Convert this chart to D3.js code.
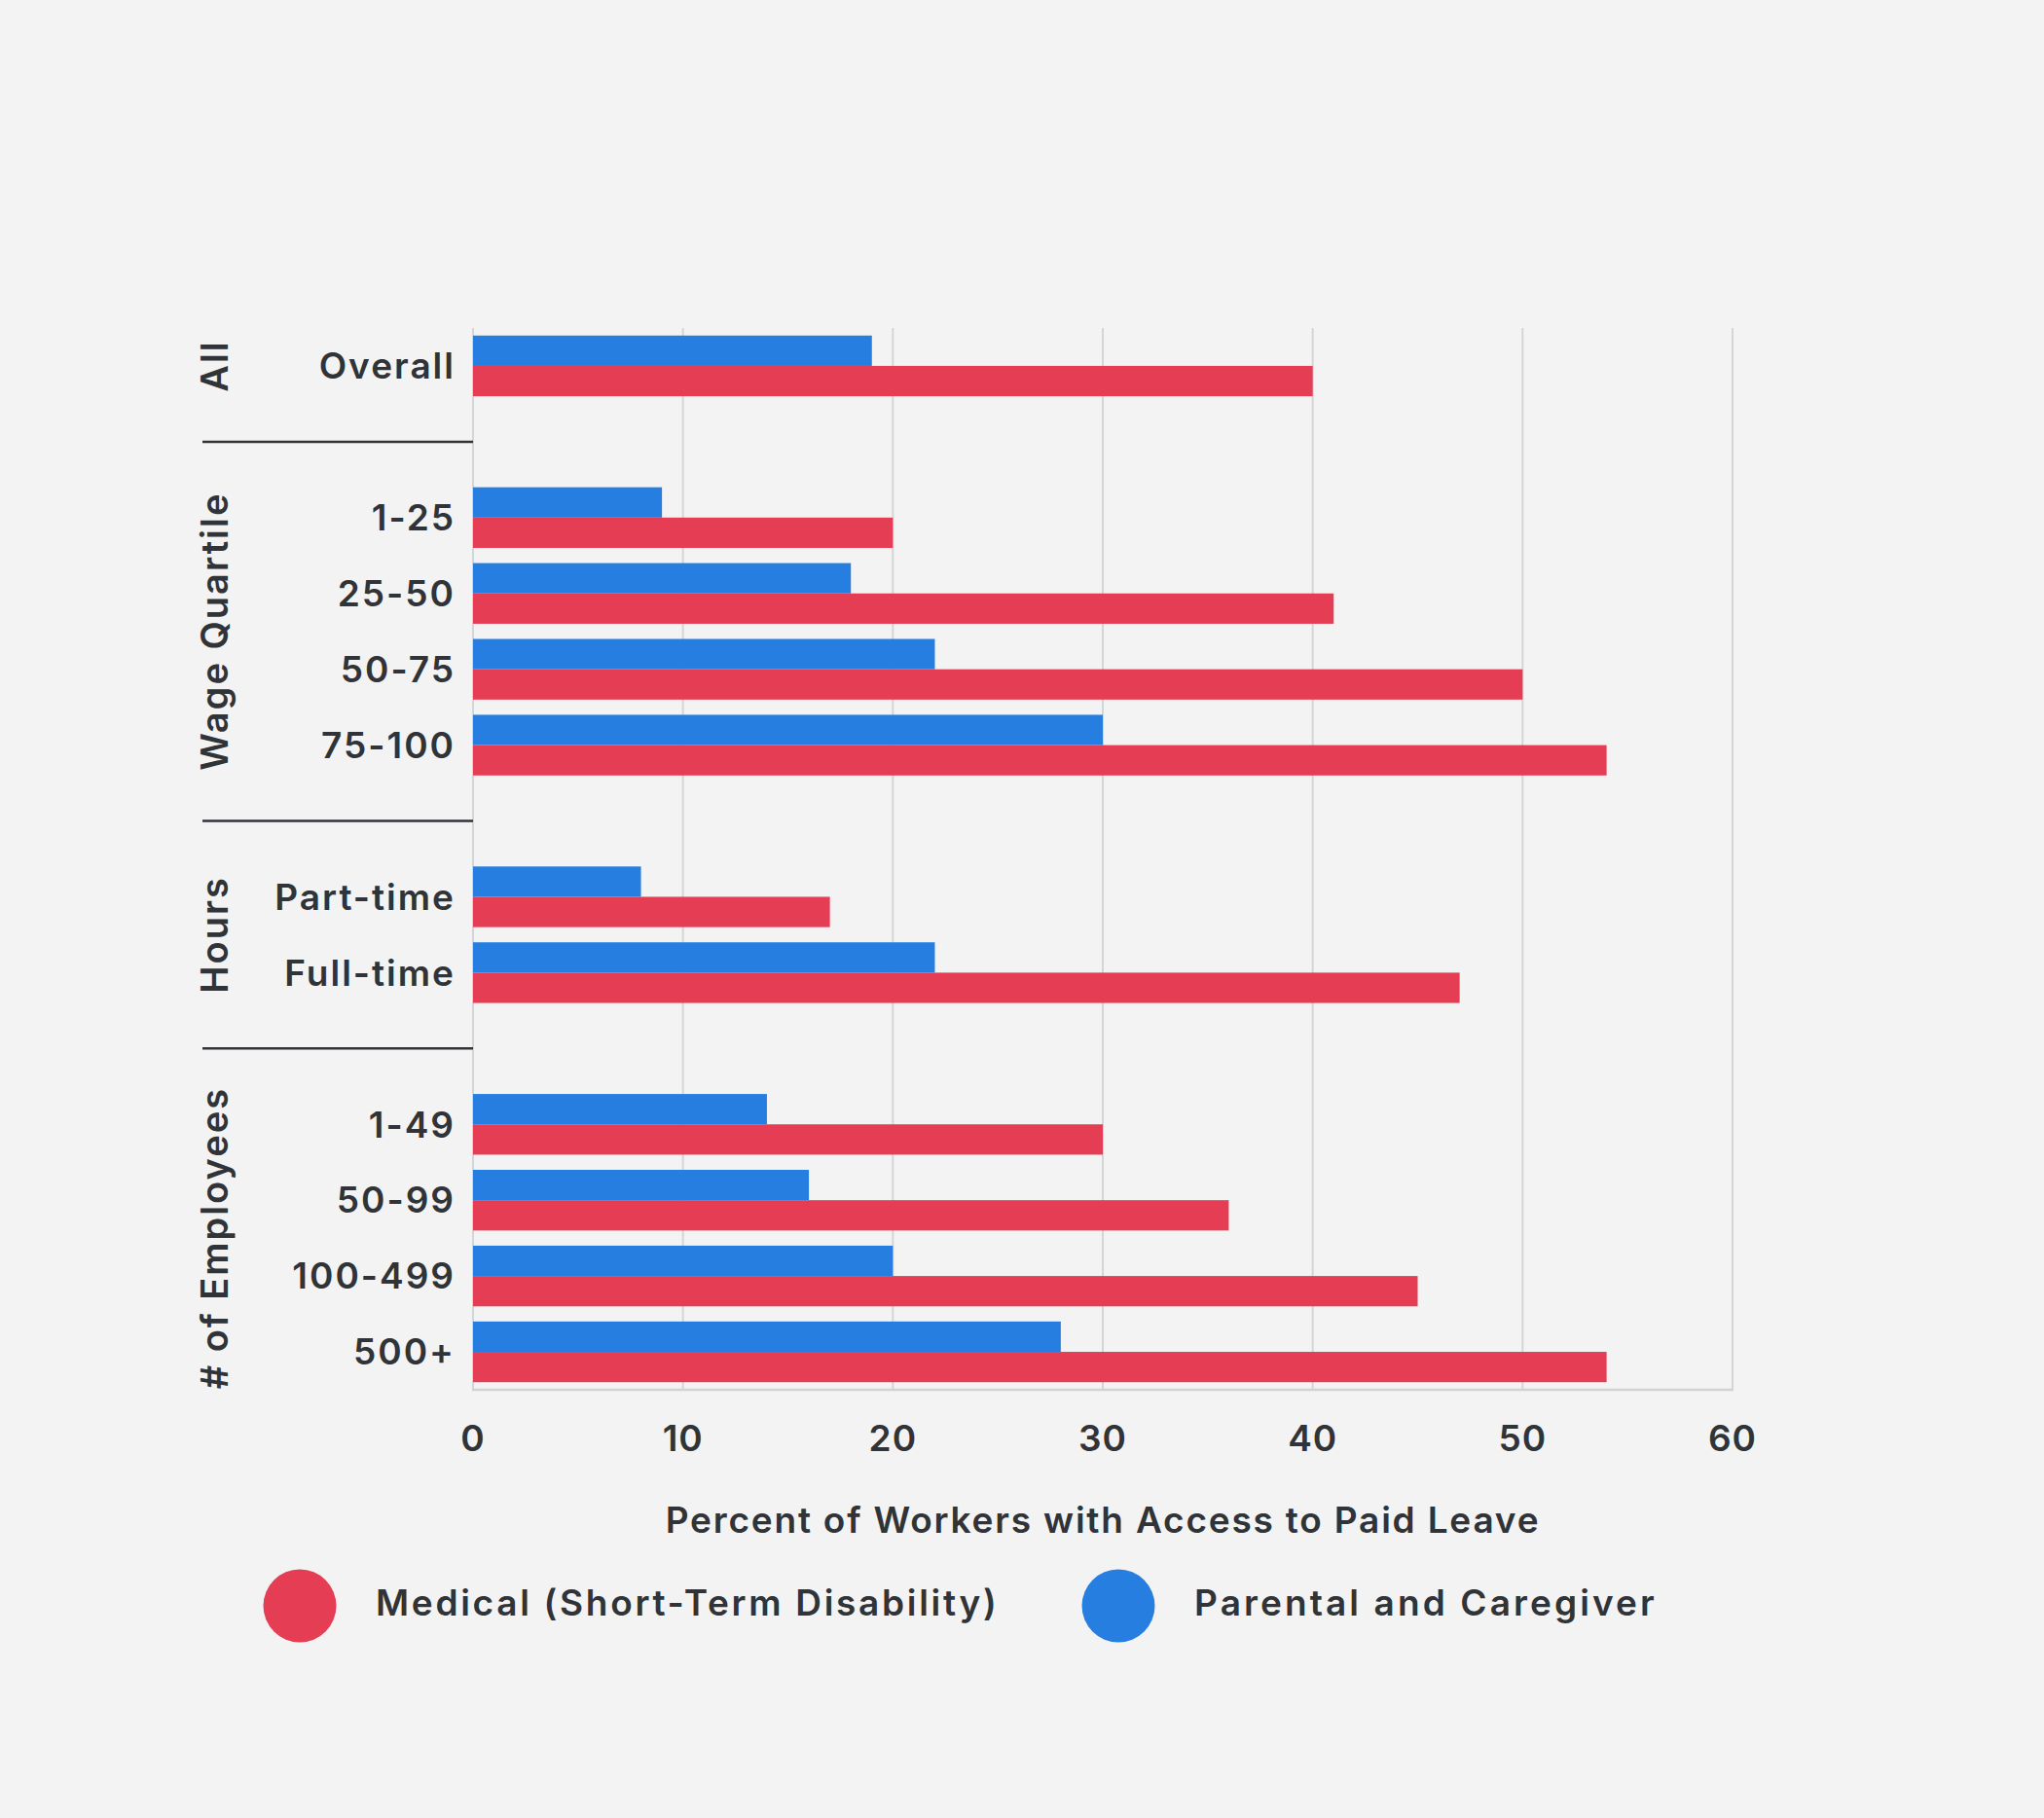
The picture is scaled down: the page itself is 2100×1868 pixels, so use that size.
<!DOCTYPE html>
<html>
<head>
<meta charset="utf-8">
<script src="https://cdn.jsdelivr.net/npm/d3@7"></script>
<style>
  html, body { margin: 0; padding: 0; background: #f3f3f3; }
  svg { display: block; }
  text { font-family: Inter, "Noto Sans", sans-serif; fill: #303337; font-weight: 600; }
</style>
</head>
<body>
<svg id="chart" width="2100" height="1868"></svg>
<script>
// ---- data ----
const groups = [
  { name: "All", items: ["Overall"] },
  { name: "Wage Quartile", items: ["1-25", "25-50", "50-75", "75-100"] },
  { name: "Hours", items: ["Part-time", "Full-time"] },
  { name: "# of Employees", items: ["1-49", "50-99", "100-499", "500+"] }
];
const categories = ["Overall", "1-25", "25-50", "50-75", "75-100", "Part-time", "Full-time", "1-49", "50-99", "100-499", "500+"];
const medical  = [40, 20, 41, 50, 54, 17, 47, 30, 36, 45, 54];
const parental = [19,  9, 18, 22, 30,  8, 22, 14, 16, 20, 28];
const xTicks = [0, 10, 20, 30, 40, 50, 60];
const seriesNames = ["Medical (Short-Term Disability)", "Parental and Caregiver"];
const seriesColors = ["#e53d54", "#267fe0"];
const xTitle = "Percent of Workers with Access to Paid Leave";

// ---- layout ----
const svg = d3.select("#chart");
svg.append("rect").attr("width", 2100).attr("height", 1868).attr("fill", "#f3f3f3");

const pLeft = 486, pRight = 1780, pTop = 337, pBottom = 1428;

const slots = [];
groups.forEach((g, i) => {
  if (i > 0) slots.push("__gap" + i);
  g.items.forEach(it => slots.push(it));
});

const x = d3.scaleLinear().domain([0, 60]).range([pLeft, pRight]);
const y = d3.scaleBand().domain(slots).range([pTop, pBottom]).paddingInner(0.2).paddingOuter(0.1);
const center = k => y(k) + y.bandwidth() / 2;

// gridlines
svg.append("g").selectAll("line").data(xTicks).join("line")
  .attr("x1", d => x(d)).attr("x2", d => x(d))
  .attr("y1", pTop).attr("y2", pBottom)
  .attr("stroke", "#d3d6d6").attr("stroke-width", 2);

// bottom axis line
svg.append("line").attr("x1", x(0) - 1).attr("x2", x(60) + 1)
  .attr("y1", pBottom).attr("y2", pBottom)
  .attr("stroke", "#cfd3d3").attr("stroke-width", 2.5);

// bars
const rows = categories.map((c, i) => ({ c, med: medical[i], par: parental[i] }));
const bh = y.bandwidth() / 2;
svg.append("g").selectAll("rect").data(rows).join("rect")
  .attr("x", x(0)).attr("y", d => y(d.c))
  .attr("width", d => x(d.par) - x(0)).attr("height", bh)
  .attr("fill", seriesColors[1]);
svg.append("g").selectAll("rect").data(rows).join("rect")
  .attr("x", x(0)).attr("y", d => y(d.c) + bh)
  .attr("width", d => x(d.med) - x(0)).attr("height", bh)
  .attr("fill", seriesColors[0]);

// x tick labels
svg.append("g").selectAll("text").data(xTicks).join("text")
  .attr("x", d => x(d)).attr("y", pBottom + 63)
  .attr("text-anchor", "middle").attr("font-size", 37)
  .style("letter-spacing", "1px")
  .text(d => d);

// x title
svg.append("text").attr("x", (pLeft + pRight) / 2).attr("y", 1575)
  .attr("text-anchor", "middle").attr("font-size", 37)
  .style("letter-spacing", "1.8px").text(xTitle);

// category labels
svg.append("g").selectAll("text").data(categories).join("text")
  .attr("x", pLeft - 18).attr("y", d => center(d))
  .attr("dy", "0.36em").attr("text-anchor", "end").attr("font-size", 37)
  .style("letter-spacing", "2px")
  .text(d => d);

// separators
svg.append("g").selectAll("line").data(slots.filter(s => s.startsWith("__gap"))).join("line")
  .attr("x1", 208).attr("x2", pLeft)
  .attr("y1", d => center(d)).attr("y2", d => center(d))
  .attr("stroke", "#303337").attr("stroke-width", 2.5);

// group labels
groups.forEach(g => {
  const c = (center(g.items[0]) + center(g.items[g.items.length - 1])) / 2;
  svg.append("text")
    .attr("transform", `translate(234,${c}) rotate(-90)`)
    .attr("text-anchor", "middle").attr("font-size", 38)
    .style("letter-spacing", "2px")
    .text(g.name);
});

// legend
const legendX = [308, 1149];
const legendSpacing = ["2.7px", "3.1px"];
seriesNames.forEach((n, i) => {
  svg.append("circle").attr("cx", legendX[i]).attr("cy", 1650).attr("r", 37.5).attr("fill", seriesColors[i]);
  svg.append("text").attr("x", legendX[i] + 78).attr("y", 1660).attr("font-size", 37)
    .style("letter-spacing", legendSpacing[i]).text(n);
});
</script>
</body>
</html>
